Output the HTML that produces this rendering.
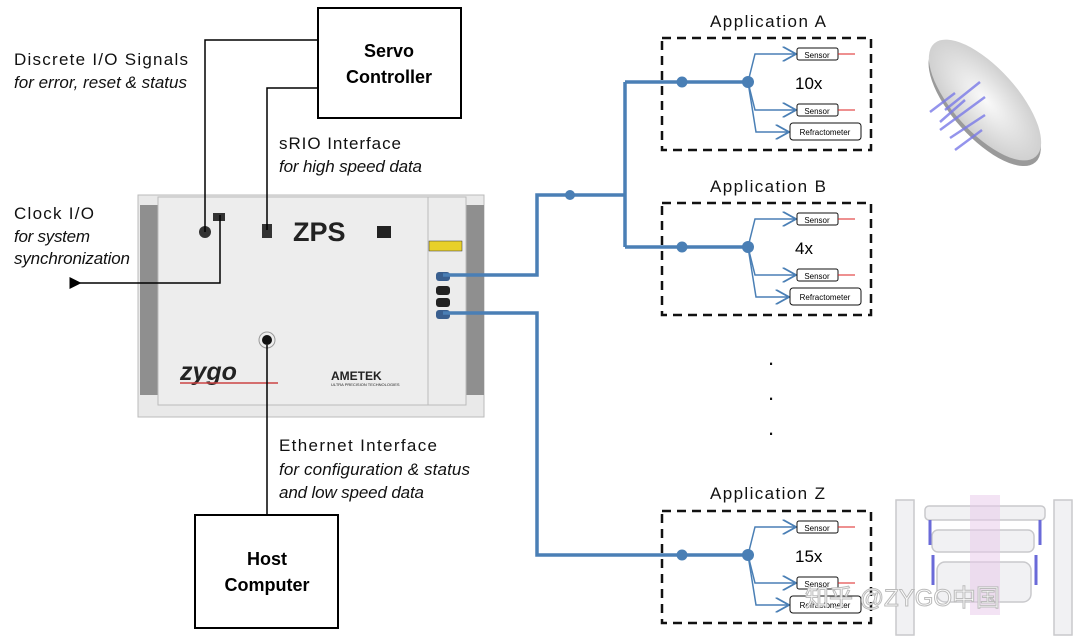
<!DOCTYPE html>
<html><head><meta charset="utf-8"><style>
html,body{margin:0;padding:0;background:#fff;}
svg{display:block;font-family:"Liberation Sans","DejaVu Sans",sans-serif;}
</style></head><body>
<svg width="1080" height="641" viewBox="0 0 1080 641" xmlns="http://www.w3.org/2000/svg">
<defs>
<radialGradient id="lg" cx="0.5" cy="0.5" r="0.6"><stop offset="0" stop-color="#fafafa"/><stop offset="1" stop-color="#c8c8c8"/></radialGradient>
<marker id="ab" markerWidth="10" markerHeight="10" refX="9" refY="5" orient="auto"><path d="M0,0 L9,5 L0,10" fill="none" stroke="#4a7fb5" stroke-width="1.2"/></marker>
<marker id="ak" markerWidth="8" markerHeight="8" refX="1" refY="4" orient="auto"><path d="M8,0 L0,4 L8,8 z" fill="#000"/></marker>
</defs>
<rect width="1080" height="641" fill="#fff"/>

<!-- lens -->
<g transform="rotate(48 985 100)">
<ellipse cx="989" cy="104" rx="76" ry="32" fill="#9a9a9a"/>
<ellipse cx="985" cy="100" rx="76" ry="32" fill="url(#lg)"/>
</g>
<g stroke="#7a7ae8" stroke-width="2.5" opacity="0.8">
<line x1="930" y1="112" x2="955" y2="93"/><line x1="940" y1="122" x2="965" y2="100"/>
<line x1="945" y1="110" x2="980" y2="82"/><line x1="940" y1="130" x2="985" y2="97"/>
<line x1="950" y1="138" x2="985" y2="115"/><line x1="955" y1="150" x2="982" y2="130"/>
</g>

<!-- bottom right apparatus -->
<g fill="#f1f1f3" stroke="#c9c9cc" stroke-width="1.5">
<path d="M896,500 h18 v135 h-18 z"/><path d="M1054,500 h18 v135 h-18 z"/>
<rect x="925" y="506" width="120" height="14" rx="4"/>
<rect x="932" y="530" width="102" height="22" rx="6"/>
<rect x="937" y="562" width="94" height="40" rx="8"/>
</g>
<rect x="970" y="495" width="30" height="120" fill="#e8c8ea" opacity="0.5"/>
<g stroke="#6a6ad8" stroke-width="3"><line x1="930" y1="520" x2="930" y2="545"/><line x1="1040" y1="520" x2="1040" y2="545"/><line x1="933" y1="555" x2="933" y2="585"/><line x1="1036" y1="555" x2="1036" y2="585"/></g>

<!-- Servo + Host -->
<rect x="318" y="8" width="143" height="110" fill="#fff" stroke="#000" stroke-width="2"/>
<text x="389" y="57" text-anchor="middle" font-size="18" font-weight="bold">Servo</text>
<text x="389" y="83" text-anchor="middle" font-size="18" font-weight="bold">Controller</text>
<rect x="195" y="515" width="143" height="113" fill="#fff" stroke="#000" stroke-width="2"/>
<text x="267" y="565" text-anchor="middle" font-size="18" font-weight="bold">Host</text>
<text x="267" y="591" text-anchor="middle" font-size="18" font-weight="bold">Computer</text>

<!-- chassis -->
<rect x="138" y="195" width="346" height="222" fill="#e9e9e9" stroke="#bbb"/>
<rect x="140" y="205" width="18" height="190" fill="#8f8f8f"/>
<rect x="466" y="205" width="18" height="190" fill="#8f8f8f"/>
<rect x="158" y="197" width="270" height="208" fill="#ededed" stroke="#bbb"/>
<rect x="428" y="197" width="38" height="208" fill="#ececec" stroke="#bbb"/>
<text x="293" y="241" font-size="27" font-weight="bold" fill="#222">ZPS</text>
<rect x="377" y="226" width="14" height="12" fill="#222"/>
<rect x="429" y="241" width="33" height="10" fill="#e8d02a" stroke="#333" stroke-width="0.5"/>
<text x="180" y="380" font-size="25" font-weight="bold" fill="#222" font-style="italic">zygo</text>
<line x1="180" y1="383" x2="278" y2="383" stroke="#c44" stroke-width="1.5"/>
<text x="331" y="380" font-size="12" font-weight="bold" fill="#222">AMETEK</text>
<text x="331" y="386" font-size="4" fill="#222">ULTRA PRECISION TECHNOLOGIES</text>
<circle cx="267" cy="340" r="8" fill="none" stroke="#999"/><circle cx="267" cy="340" r="5" fill="#111"/>
<circle cx="205" cy="232" r="6" fill="#333"/><rect x="213" y="213" width="12" height="8" fill="#333"/>
<rect x="262" y="224" width="10" height="14" fill="#333"/>
<rect x="436" y="272" width="14" height="9" rx="3" fill="#3a5f8f"/>
<rect x="436" y="286" width="14" height="9" rx="3" fill="#222"/>
<rect x="436" y="298" width="14" height="9" rx="3" fill="#222"/>
<rect x="436" y="310" width="14" height="9" rx="3" fill="#3a5f8f"/>

<!-- black lines -->
<g stroke="#000" stroke-width="1.5" fill="none">
<polyline points="318,40 205,40 205,232"/>
<polyline points="318,88 267,88 267,230"/>
<polyline points="220,215 220,283 80,283" marker-end="url(#ak)"/>
<line x1="267" y1="345" x2="267" y2="515"/>
</g>

<!-- labels -->
<g font-size="17" fill="#111">
<text x="14" y="65" textLength="174">Discrete I/O  Signals</text>
<text x="14" y="88" font-style="italic" textLength="173">for error, reset &amp; status</text>
<text x="14" y="219" textLength="80">Clock I/O</text>
<text x="14" y="242" font-style="italic" textLength="76">for system</text>
<text x="14" y="264" font-style="italic" textLength="116">synchronization</text>
<text x="279" y="149" textLength="122">sRIO Interface</text>
<text x="279" y="172" font-style="italic" textLength="143">for high speed data</text>
<text x="279" y="451" textLength="158">Ethernet Interface</text>
<text x="279" y="475" font-style="italic" textLength="191">for configuration &amp; status</text>
<text x="279" y="498" font-style="italic" textLength="145">and low speed data</text>
<text x="710" y="27" textLength="116">Application A</text>
<text x="710" y="192" textLength="116">Application B</text>
<text x="710" y="499" textLength="115">Application Z</text>
</g>
<g font-size="22" fill="#111"><text x="768" y="365">.</text><text x="768" y="400">.</text><text x="768" y="435">.</text></g>

<!-- blue trunk -->
<g stroke="#4a7fb5" stroke-width="3.5" fill="none">
<polyline points="443,275 537,275 537,195 625,195"/>
<polyline points="625,82 625,247"/>
<line x1="625" y1="82" x2="748" y2="82"/>
<line x1="625" y1="247" x2="748" y2="247"/>
<polyline points="443,313 537,313 537,555 748,555"/>
</g>
<circle cx="570" cy="195" r="5" fill="#4a7fb5"/>

<!-- app boxes -->
<g>
<rect x="662" y="38" width="209" height="112" fill="none" stroke="#111" stroke-width="2.5" stroke-dasharray="9,6"/>
<circle cx="682" cy="82" r="5.5" fill="#4a7fb5"/><circle cx="748" cy="82" r="6" fill="#4a7fb5"/>
<g stroke="#4a7fb5" stroke-width="1.5" fill="none">
<path d="M748,82 L755,54 H796" marker-end="url(#ab)"/>
<path d="M748,82 L755,110 H796" marker-end="url(#ab)"/>
<path d="M748,82 L756,132 H789" marker-end="url(#ab)"/>
</g>
<rect x="797" y="48" width="41" height="12" rx="2" fill="#fff" stroke="#111"/><text x="817" y="58" font-size="8" text-anchor="middle">Sensor</text>
<rect x="797" y="104" width="41" height="12" rx="2" fill="#fff" stroke="#111"/><text x="817" y="114" font-size="8" text-anchor="middle">Sensor</text>
<rect x="790" y="123" width="71" height="17" rx="3" fill="#fff" stroke="#111"/><text x="825" y="135" font-size="8" text-anchor="middle">Refractometer</text>
<g stroke="#d22" stroke-width="1"><line x1="838" y1="54" x2="855" y2="54"/><line x1="838" y1="110" x2="855" y2="110"/></g>
<text x="795" y="89" font-size="17">10x</text>
</g>
<g transform="translate(0,165)">
<rect x="662" y="38" width="209" height="112" fill="none" stroke="#111" stroke-width="2.5" stroke-dasharray="9,6"/>
<circle cx="682" cy="82" r="5.5" fill="#4a7fb5"/><circle cx="748" cy="82" r="6" fill="#4a7fb5"/>
<g stroke="#4a7fb5" stroke-width="1.5" fill="none">
<path d="M748,82 L755,54 H796" marker-end="url(#ab)"/>
<path d="M748,82 L755,110 H796" marker-end="url(#ab)"/>
<path d="M748,82 L756,132 H789" marker-end="url(#ab)"/>
</g>
<rect x="797" y="48" width="41" height="12" rx="2" fill="#fff" stroke="#111"/><text x="817" y="58" font-size="8" text-anchor="middle">Sensor</text>
<rect x="797" y="104" width="41" height="12" rx="2" fill="#fff" stroke="#111"/><text x="817" y="114" font-size="8" text-anchor="middle">Sensor</text>
<rect x="790" y="123" width="71" height="17" rx="3" fill="#fff" stroke="#111"/><text x="825" y="135" font-size="8" text-anchor="middle">Refractometer</text>
<g stroke="#d22" stroke-width="1"><line x1="838" y1="54" x2="855" y2="54"/><line x1="838" y1="110" x2="855" y2="110"/></g>
<text x="795" y="89" font-size="17">4x</text>
</g>
<g transform="translate(0,473)">
<rect x="662" y="38" width="209" height="112" fill="none" stroke="#111" stroke-width="2.5" stroke-dasharray="9,6"/>
<circle cx="682" cy="82" r="5.5" fill="#4a7fb5"/><circle cx="748" cy="82" r="6" fill="#4a7fb5"/>
<g stroke="#4a7fb5" stroke-width="1.5" fill="none">
<path d="M748,82 L755,54 H796" marker-end="url(#ab)"/>
<path d="M748,82 L755,110 H796" marker-end="url(#ab)"/>
<path d="M748,82 L756,132 H789" marker-end="url(#ab)"/>
</g>
<rect x="797" y="48" width="41" height="12" rx="2" fill="#fff" stroke="#111"/><text x="817" y="58" font-size="8" text-anchor="middle">Sensor</text>
<rect x="797" y="104" width="41" height="12" rx="2" fill="#fff" stroke="#111"/><text x="817" y="114" font-size="8" text-anchor="middle">Sensor</text>
<rect x="790" y="123" width="71" height="17" rx="3" fill="#fff" stroke="#111"/><text x="825" y="135" font-size="8" text-anchor="middle">Refractometer</text>
<g stroke="#d22" stroke-width="1"><line x1="838" y1="54" x2="855" y2="54"/><line x1="838" y1="110" x2="855" y2="110"/></g>
<text x="795" y="89" font-size="17">15x</text>
</g>

<!-- watermark -->
<text x="805" y="606" font-size="24" fill="#fff" stroke="#bbb" stroke-width="1" font-family="Liberation Sans,'Noto Sans CJK SC',sans-serif">知乎 @ZYGO中国</text>
</svg>
</body></html>
